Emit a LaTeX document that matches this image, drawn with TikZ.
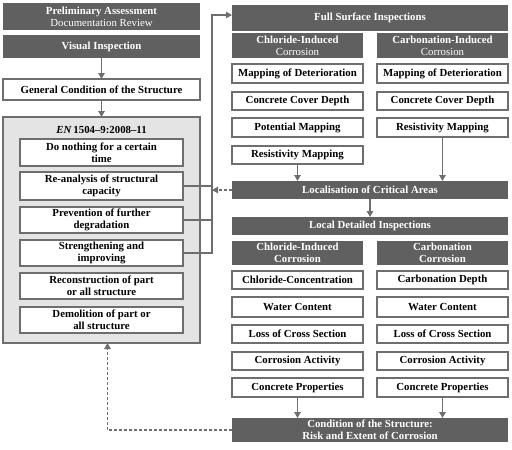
\documentclass[tikz,border=0pt]{standalone}
\usepackage{fontspec}
\setmainfont{Liberation Serif}
\usetikzlibrary{arrows.meta,calc}
\definecolor{dk}{RGB}{96,96,96}
\definecolor{bd}{RGB}{110,110,110}
\definecolor{lg}{RGB}{228,228,228}
\newcommand\mybox[7]{\node[#6, minimum width={#4-#2}, minimum height={#5-#3}] (#1) at ({(#2+#4)/2},{(#3+#5)/2}) {#7};}
\begin{document}
\begin{tikzpicture}[x=1pt,y=-1pt,
  every node/.style={inner sep=0.5pt, outer sep=0pt, align=center, font=\fontsize{10.8}{12}\selectfont\bfseries},
  dkbox/.style={fill=dk, text=white},
  wbox/.style={fill=white, draw=bd, line width=1.2pt},
  enfill/.style={fill=lg, draw=bd, line width=1.2pt},
  ln/.style={draw=bd, line width=1.3pt},
  arr/.style={ln, -{Triangle[length=6pt,width=6.5pt]}},
  darr/.style={arr, dash pattern=on 3pt off 2pt}]
\useasboundingbox (0,0) rectangle (512,450);
% left column
\mybox{prelim}{3}{3}{200}{30}{dkbox}{Preliminary Assessment\\\mdseries Documentation Review}
\mybox{visual}{3}{35}{200}{58}{dkbox}{Visual Inspection}
\mybox{general}{3}{79}{200}{100}{wbox}{General Condition of the Structure}
\mybox{enbox}{3}{117}{200}{343}{enfill}{}
\node (entitle) at (101.5,130) {\textit{EN}\,1504--9:2008--11};
\mybox{donothing}{20}{139}{183}{166}{wbox}{Do nothing for a certain\\time}
\mybox{reanalysis}{20}{172}{183}{200}{wbox}{Re-analysis of structural\\capacity}
\mybox{prevention}{20}{207}{183}{233}{wbox}{Prevention of further\\degradation}
\mybox{strength}{20}{240}{183}{266}{wbox}{Strengthening and\\improving}
\mybox{recon}{20}{273}{183}{299}{wbox}{Reconstruction of part\\or all structure}
\mybox{demol}{20}{307}{183}{333}{wbox}{Demolition of part or\\all structure}
% right column
\mybox{fullsurf}{232}{5}{508}{31}{dkbox}{Full Surface Inspections}
\mybox{chlA}{232}{33}{363}{58}{dkbox}{Chloride-Induced\\\mdseries Corrosion}
\mybox{carbA}{377}{33}{508}{58}{dkbox}{Carbonation-Induced\\\mdseries Corrosion}
\mybox{mapL}{232}{64}{363}{83}{wbox}{Mapping of Deterioration}
\mybox{mapR}{377}{64}{508}{83}{wbox}{Mapping of Deterioration}
\mybox{covL}{232}{92}{363}{110}{wbox}{Concrete Cover Depth}
\mybox{covR}{377}{92}{508}{110}{wbox}{Concrete Cover Depth}
\mybox{potL}{232}{118}{363}{137}{wbox}{Potential Mapping}
\mybox{resR}{377}{118}{508}{137}{wbox}{Resistivity Mapping}
\mybox{resL}{232}{146}{363}{164}{wbox}{Resistivity Mapping}
\mybox{localis}{232}{181}{508}{199}{dkbox}{Localisation of Critical Areas}
\mybox{ldi}{232}{217}{508}{235}{dkbox}{Local Detailed Inspections}
\mybox{chlB}{232}{241}{363}{265}{dkbox}{Chloride-Induced\\Corrosion}
\mybox{carbB}{377}{241}{508}{265}{dkbox}{Carbonation\\Corrosion}
\mybox{cconc}{232}{271}{363}{289}{wbox}{Chloride-Concentration}
\mybox{cdepth}{377}{271}{508}{289}{wbox}{Carbonation Depth}
\mybox{waterL}{232}{297}{363}{317}{wbox}{Water Content}
\mybox{waterR}{377}{297}{508}{317}{wbox}{Water Content}
\mybox{lossL}{232}{325}{363}{343}{wbox}{Loss of Cross Section}
\mybox{lossR}{377}{325}{508}{343}{wbox}{Loss of Cross Section}
\mybox{actL}{232}{352}{363}{370}{wbox}{Corrosion Activity}
\mybox{actR}{377}{352}{508}{370}{wbox}{Corrosion Activity}
\mybox{propL}{232}{378}{363}{397}{wbox}{Concrete Properties}
\mybox{propR}{377}{378}{508}{397}{wbox}{Concrete Properties}
\mybox{cond}{232}{418}{508}{442}{dkbox}{Condition of the Structure:\\Risk and Extent of Corrosion}
% connectors
\coordinate (vx) at (212,0);
\draw[arr] (visual) -- (general);
\draw[arr] (general) -- (enbox.north);
\draw[ln] (reanalysis.east) -- (reanalysis.east -| vx);
\draw[ln] (prevention.east) -- (prevention.east -| vx);
\draw[arr] (strength.east) -| ([yshift=3pt]fullsurf.west -| vx) -- ([yshift=3pt]fullsurf.west);
\draw[darr] (localis.west) -- (localis.west -| vx);
\draw[arr] (resL) -- (resL.south |- localis.north);
\draw[arr] (resR) -- (resR.south |- localis.north);
\draw[arr] (localis) -- (ldi);
\draw[arr] (propL) -- (propL.south |- cond.north);
\draw[arr] (propR) -- (propR.south |- cond.north);
\draw[darr] (cond.west) -| ([xshift=6pt]enbox.south);
\end{tikzpicture}
\end{document}
